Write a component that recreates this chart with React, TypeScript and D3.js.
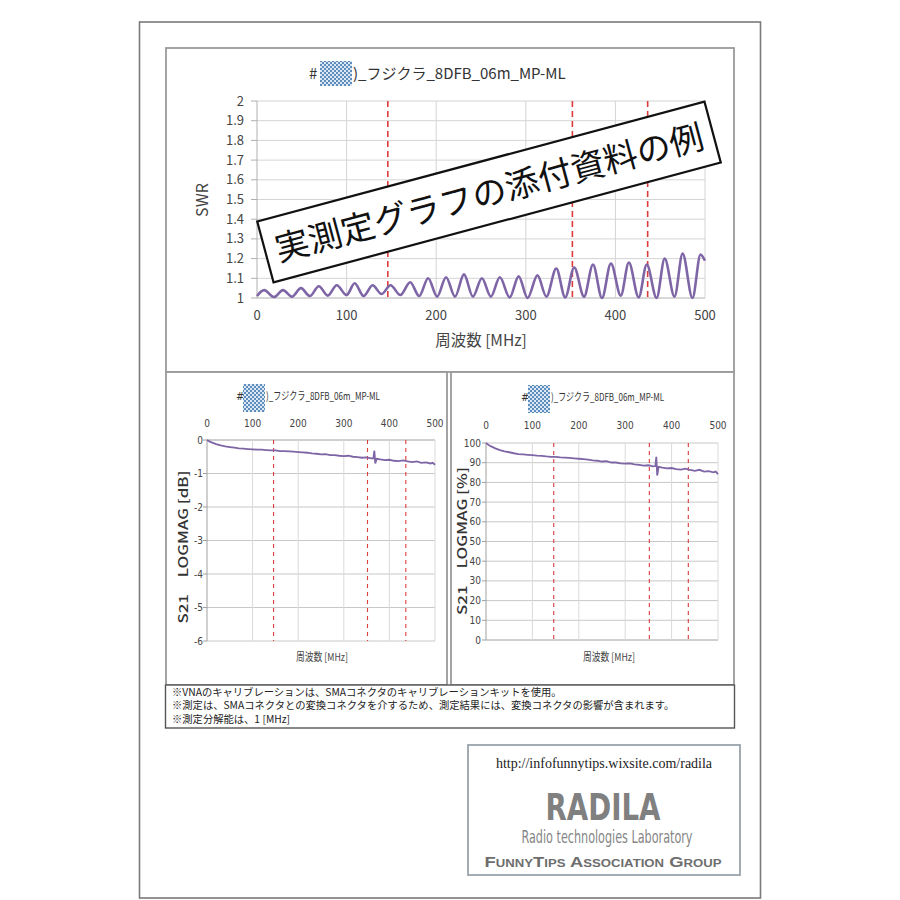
import React from 'react';
import * as d3 from 'd3';

// ---------- data ----------
const freqTicks = [0, 100, 200, 300, 400, 500];
const swrTicks = [1, 1.1, 1.2, 1.3, 1.4, 1.5, 1.6, 1.7, 1.8, 1.9, 2];
const swrTickLabels = ['1', '1.1', '1.2', '1.3', '1.4', '1.5', '1.6', '1.7', '1.8', '1.9', '2'];
const markerFreqs = [146, 352, 436];

// SWR extrema (MHz, SWR)
const swrFreq = [0, 8, 19, 29, 39, 49, 59, 69, 79, 89, 100, 109, 119, 129, 139, 149, 160, 171, 181, 191, 201, 211, 221, 231, 241, 251, 261, 271, 282, 292, 302, 313, 323, 334, 344, 354, 365, 375, 385, 395, 406, 415, 426, 435, 446, 455, 466, 475, 486, 495, 500];
const swrValue = [1.01, 1.04, 1.005, 1.04, 1.007, 1.05, 1.01, 1.06, 1.012, 1.065, 1.015, 1.075, 1.01, 1.065, 1.02, 1.065, 1.015, 1.08, 1.01, 1.1, 1.007, 1.105, 1.007, 1.12, 1.007, 1.1, 1.007, 1.105, 1.003, 1.11, 1.0, 1.115, 1.007, 1.15, 1.003, 1.155, 1.007, 1.17, 1.0, 1.175, 1.012, 1.18, 1.003, 1.17, 1.0, 1.2, 1.007, 1.225, 1.0, 1.22, 1.19];

// S21 trace (MHz) with dB and % readings
const s21Freq = [0, 5, 10, 20, 30, 40, 50, 60, 70, 80, 90, 100, 110, 120, 130, 140, 150, 160, 170, 180, 190, 200, 210, 220, 230, 240, 250, 260, 270, 280, 290, 300, 310, 320, 330, 340, 350, 360, 365, 367, 369, 372, 380, 390, 400, 410, 420, 430, 440, 450, 460, 470, 480, 490, 495, 500];
const s21Db = [0, -0.04, -0.07, -0.12, -0.16, -0.19, -0.21, -0.23, -0.25, -0.26, -0.27, -0.28, -0.29, -0.29, -0.3, -0.31, -0.31, -0.33, -0.33, -0.34, -0.35, -0.36, -0.37, -0.38, -0.4, -0.41, -0.43, -0.42, -0.45, -0.45, -0.47, -0.48, -0.47, -0.5, -0.51, -0.53, -0.52, -0.55, -0.54, -0.32, -0.7, -0.56, -0.58, -0.6, -0.59, -0.62, -0.63, -0.61, -0.64, -0.66, -0.64, -0.68, -0.67, -0.7, -0.68, -0.74];
const s21Pct = [100, 99.1, 98.4, 97.3, 96.4, 95.7, 95.3, 94.8, 94.4, 94.2, 94.0, 93.8, 93.6, 93.5, 93.2, 93.0, 93.0, 92.7, 92.6, 92.4, 92.2, 92.0, 91.8, 91.6, 91.2, 91.0, 90.6, 90.8, 90.1, 90.1, 89.7, 89.5, 89.7, 89.1, 88.9, 88.5, 88.7, 88.1, 88.3, 93.0, 83.5, 87.9, 87.5, 87.1, 87.3, 86.7, 86.5, 87.0, 86.3, 85.9, 86.4, 85.5, 85.7, 85.1, 85.5, 84.2];

const dbTicks = [0, -1, -2, -3, -4, -5, -6];
const pctTicks = [100, 90, 80, 70, 60, 50, 40, 30, 20, 10, 0];

const titleHash = '#';
const titleRest = ')_フジクラ_8DFB_06m_MP-ML';
const xAxisTitle = '周波数 [MHz]';
const swrAxisTitle = 'SWR';
const dbAxisTitle = 'S21\u3000LOGMAG [dB]';
const pctAxisTitle = 'S21\u3000LOGMAG [%]';
const overlayText = '実測定グラフの添付資料の例';
const noteLines = [
  '※VNAのキャリブレーションは、SMAコネクタのキャリブレーションキットを使用。',
  '※測定は、SMAコネクタとの変換コネクタを介するため、測定結果には、変換コネクタの影響が含まれます。',
  '※測定分解能は、1 [MHz]',
];
const logoUrl = 'http://infofunnytips.wixsite.com/radila';
const logoName = 'RADILA';
const logoSub = 'Radio technologies Laboratory';
const logoGroup = 'FunnyTips Association Group';

// ---------- styles ----------
const JP = "'Noto Sans CJK JP', 'Noto Sans', sans-serif";
const NARROW = "'Liberation Sans Narrow', 'DejaVu Sans Condensed', 'Liberation Sans', sans-serif";
const PURPLE = '#7e65a6';
const RED = '#dd3b3b';
const GRID = '#d4d4d4';
const AXIS = '#b0b0b0';

export default function App() {
  // top SWR chart
  const xT = d3.scaleLinear().domain([0, 500]).range([257, 705]);
  const yT = d3.scaleLinear().domain([1, 2]).range([298, 101]);
  const swrLine = d3
    .line<number>()
    .x((_, i) => xT(swrFreq[i]))
    .y((d) => yT(d))
    .curve(d3.curveMonotoneX);

  // bottom-left dB chart
  const xL = d3.scaleLinear().domain([0, 500]).range([207, 435]);
  const yL = d3.scaleLinear().domain([-6, 0]).range([641, 440]);
  const dbLine = d3
    .line<number>()
    .x((_, i) => xL(s21Freq[i]))
    .y((d) => yL(d));

  // bottom-right % chart
  const xR = d3.scaleLinear().domain([0, 500]).range([486, 718]);
  const yR = d3.scaleLinear().domain([0, 100]).range([640, 443]);
  const pctLine = d3
    .line<number>()
    .x((_, i) => xR(s21Freq[i]))
    .y((d) => yR(d));

  const ovCx = 489;
  const ovCy = 192;

  return (
    <svg
      width={900}
      height={900}
      viewBox="0 0 900 900"
      style={{ position: 'absolute', left: 0, top: 0, background: '#fff' }}
    >
      <defs>
        <pattern id="mosaic" width={4} height={4} patternUnits="userSpaceOnUse">
          <rect width={4} height={4} fill="#dce8f3" />
          <rect width={2} height={2} fill="#5d8dbd" />
          <rect x={2} y={2} width={2} height={2} fill="#5d8dbd" />
        </pattern>
      </defs>
      <rect x={0} y={0} width={900} height={900} fill="#fff" />

      {/* page border */}
      <rect x={139.5} y={22} width={621} height={876} fill="none" stroke="#7a7a7a" strokeWidth={1.6} />

      {/* ================= TOP CHART ================= */}
      <rect x={166} y={48} width={568} height={324} fill="#fff" stroke="#9a9a9a" strokeWidth={1.8} />
      <text x={309} y={79} fontFamily={JP} fontSize={15} fill="#333">{titleHash}</text>
      <rect x={320} y={61} width={32} height={25} fill="url(#mosaic)" />
      <text x={353} y={79} fontFamily={JP} fontSize={15} fill="#333">{titleRest}</text>

      {/* grid */}
      {swrTicks.map((t) => (
        <line key={'hg' + t} x1={xT(0)} x2={xT(500)} y1={yT(t)} y2={yT(t)} stroke={t === 1 ? AXIS : GRID} strokeWidth={1} />
      ))}
      {freqTicks.map((t) => (
        <line key={'vg' + t} x1={xT(t)} x2={xT(t)} y1={yT(1)} y2={yT(2)} stroke={t === 0 ? AXIS : GRID} strokeWidth={1} />
      ))}
      {swrTicks.map((t) => (
        <line key={'tk' + t} x1={xT(0) - 6} x2={xT(0)} y1={yT(t)} y2={yT(t)} stroke={AXIS} strokeWidth={1} />
      ))}
      {swrTicks.map((t, i) => (
        <text key={'yl' + t} x={244} y={yT(t) + 4.5} textAnchor="end" fontFamily={JP} fontSize={13} fill="#444">
          {swrTickLabels[i]}
        </text>
      ))}
      {freqTicks.map((t) => (
        <text key={'xl' + t} x={xT(t)} y={320} textAnchor="middle" fontFamily={JP} fontSize={13} fill="#444">
          {t}
        </text>
      ))}
      <text x={481} y={346} textAnchor="middle" fontFamily={JP} fontSize={15.5} fill="#444">{xAxisTitle}</text>
      <text
        x={0}
        y={0}
        transform={`translate(208,200) rotate(-90)`}
        textAnchor="middle"
        fontFamily={JP}
        fontSize={16}
        fill="#444"
      >
        {swrAxisTitle}
      </text>

      {markerFreqs.map((f) => (
        <line key={'mt' + f} x1={xT(f)} x2={xT(f)} y1={yT(2)} y2={yT(1)} stroke={RED} strokeWidth={1.6} strokeDasharray="6,4" />
      ))}
      <path d={swrLine(swrValue) || ''} fill="none" stroke={PURPLE} strokeWidth={2.6} />

      {/* overlay label */}
      <g transform={`translate(${ovCx},${ovCy}) rotate(-15)`}>
        <rect x={-231.5} y={-31.5} width={463} height={63} fill="#fff" stroke="#111" strokeWidth={2.2} />
        <text x={0} y={13} textAnchor="middle" fontFamily={JP} fontSize={34} fill="#111">
          {overlayText}
        </text>
      </g>

      {/* ================= BOTTOM-LEFT CHART ================= */}
      <rect x={166} y={372} width={281} height={313} fill="#fff" stroke="#9a9a9a" strokeWidth={1.8} />
      <text x={236} y={400} fontFamily={NARROW} fontSize={11} fill="#333">{titleHash}</text>
      <rect x={243} y={384} width={22} height={28} fill="url(#mosaic)" />
      <text x={266} y={400} fontFamily={JP} fontSize={11} fill="#333" textLength={114} lengthAdjust="spacingAndGlyphs">
        {titleRest}
      </text>
      {dbTicks.map((t) => (
        <line key={'lhg' + t} x1={xL(0)} x2={xL(500)} y1={yL(t)} y2={yL(t)} stroke={t === 0 ? '#a0a0a0' : '#c8c8c8'} strokeWidth={1} />
      ))}
      {freqTicks.map((t) => (
        <line key={'lvg' + t} x1={xL(t)} x2={xL(t)} y1={yL(0)} y2={yL(-6)} stroke={t === 0 ? '#a0a0a0' : '#dadada'} strokeWidth={1} />
      ))}
      {dbTicks.map((t) => (
        <line key={'ltk' + t} x1={xL(0) - 4} x2={xL(0)} y1={yL(t)} y2={yL(t)} stroke="#a0a0a0" strokeWidth={1} />
      ))}
      {dbTicks.map((t) => (
        <text key={'lyl' + t} x={203} y={yL(t) + 3.5} textAnchor="end" fontFamily={NARROW} fontSize={10} fill="#444">
          {t}
        </text>
      ))}
      {freqTicks.map((t) => (
        <text key={'lxl' + t} x={xL(t)} y={427} textAnchor="middle" fontFamily={NARROW} fontSize={10} fill="#444">
          {t}
        </text>
      ))}
      <text x={322} y={661} textAnchor="middle" fontFamily={JP} fontSize={11} fill="#444" textLength={52} lengthAdjust="spacingAndGlyphs">
        {xAxisTitle}
      </text>
      <text
        x={0}
        y={0}
        transform={`translate(188,547) rotate(-90)`}
        textAnchor="middle"
        fontFamily={JP}
        fontSize={12.5}
        fontWeight={500}
        fill="#333"
        textLength={153}
        lengthAdjust="spacingAndGlyphs"
      >
        {dbAxisTitle}
      </text>
      {markerFreqs.map((f) => (
        <line key={'ml' + f} x1={xL(f)} x2={xL(f)} y1={yL(0)} y2={yL(-6)} stroke={RED} strokeWidth={1.1} strokeDasharray="4,4" />
      ))}
      <path d={dbLine(s21Db) || ''} fill="none" stroke={PURPLE} strokeWidth={1.8} />

      {/* ================= BOTTOM-RIGHT CHART ================= */}
      <rect x={451} y={372} width={283} height={313} fill="#fff" stroke="#9a9a9a" strokeWidth={1.8} />
      <text x={521} y={401} fontFamily={NARROW} fontSize={11} fill="#333">{titleHash}</text>
      <rect x={528} y={385} width={22} height={28} fill="url(#mosaic)" />
      <text x={551} y={401} fontFamily={JP} fontSize={11} fill="#333" textLength={113} lengthAdjust="spacingAndGlyphs">
        {titleRest}
      </text>
      {pctTicks.map((t) => (
        <line key={'rhg' + t} x1={xR(0)} x2={xR(500)} y1={yR(t)} y2={yR(t)} stroke={t === 0 ? '#a0a0a0' : '#c8c8c8'} strokeWidth={1} />
      ))}
      {freqTicks.map((t) => (
        <line key={'rvg' + t} x1={xR(t)} x2={xR(t)} y1={yR(100)} y2={yR(0)} stroke={t === 0 ? '#a0a0a0' : '#dadada'} strokeWidth={1} />
      ))}
      {pctTicks.map((t) => (
        <line key={'rtk' + t} x1={xR(0) - 4} x2={xR(0)} y1={yR(t)} y2={yR(t)} stroke="#a0a0a0" strokeWidth={1} />
      ))}
      {pctTicks.map((t) => (
        <text key={'ryl' + t} x={481} y={yR(t) + 3.5} textAnchor="end" fontFamily={NARROW} fontSize={10} fill="#444">
          {t}
        </text>
      ))}
      {freqTicks.map((t) => (
        <text key={'rxl' + t} x={xR(t)} y={429} textAnchor="middle" fontFamily={NARROW} fontSize={10} fill="#444">
          {t}
        </text>
      ))}
      <text x={609} y={661} textAnchor="middle" fontFamily={JP} fontSize={11} fill="#444" textLength={52} lengthAdjust="spacingAndGlyphs">
        {xAxisTitle}
      </text>
      <text
        x={0}
        y={0}
        transform={`translate(467,541) rotate(-90)`}
        textAnchor="middle"
        fontFamily={JP}
        fontSize={12.5}
        fontWeight={500}
        fill="#333"
        textLength={148}
        lengthAdjust="spacingAndGlyphs"
      >
        {pctAxisTitle}
      </text>
      {markerFreqs.map((f) => (
        <line key={'mr' + f} x1={xR(f)} x2={xR(f)} y1={yR(100)} y2={yR(0)} stroke={RED} strokeWidth={1.1} strokeDasharray="4,4" />
      ))}
      <path d={pctLine(s21Pct) || ''} fill="none" stroke={PURPLE} strokeWidth={1.8} />

      {/* ================= NOTES ================= */}
      <rect x={165.5} y={685} width={569} height={43} fill="#fff" stroke="#555" strokeWidth={1.4} />
      {noteLines.map((l, i) => (
        <text key={'n' + i} x={172} y={696 + i * 13.3} fontFamily={JP} fontSize={10.3} fill="#222">
          {l}
        </text>
      ))}

      {/* ================= LOGO ================= */}
      <rect x={468} y={745} width={272} height={130} fill="#fff" stroke="#9aa4ab" strokeWidth={1.8} />
      <text x={604} y={768} textAnchor="middle" fontFamily="'Liberation Serif', 'DejaVu Serif', serif" fontSize={14} fill="#222">
        {logoUrl}
      </text>
      <text x={603} y={820} textAnchor="middle" fontFamily={NARROW} fontWeight="bold" fontSize={38} fill="#808080" textLength={115} lengthAdjust="spacingAndGlyphs">
        {logoName}
      </text>
      <text x={607} y={843} textAnchor="middle" fontFamily={NARROW} fontSize={17} fill="#858585" textLength={171} lengthAdjust="spacingAndGlyphs">
        {logoSub}
      </text>
      <text x={603} y={867} textAnchor="middle" fontFamily="'Liberation Sans', sans-serif" fontWeight="bold" fontSize={14} fill="#6e6e6e" style={{ fontVariant: 'small-caps' }} textLength={237} lengthAdjust="spacingAndGlyphs">
        {logoGroup}
      </text>
    </svg>
  );
}
